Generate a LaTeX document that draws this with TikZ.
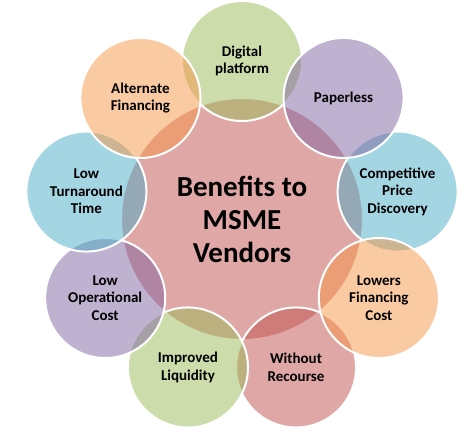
\documentclass[tikz,border=0pt]{standalone}
\usepackage{fontspec}
\setmainfont{Carlito}
\usetikzlibrary{calc}
\definecolor{cgreen}{HTML}{9BBB59}
\definecolor{cpurple}{HTML}{8064A2}
\definecolor{caqua}{HTML}{4BACC6}
\definecolor{corange}{HTML}{F79646}
\definecolor{cred}{HTML}{C0504D}
\begin{document}
\begin{tikzpicture}[x=1pt,y=1pt,
  bub/.style={circle, minimum size=120pt, inner sep=0pt, draw=white, line width=2pt,
    fill opacity=0.5, text opacity=1, align=center, text=black,
    font=\fontsize{15}{17.5}\selectfont\bfseries},
  hub/.style={bub, minimum size=242pt, font=\fontsize{29}{33}\selectfont\bfseries}
]
\useasboundingbox (0,0) rectangle (470,435);
\fill[white] (0,0) rectangle (470,435);
\coordinate (O) at (242,216);
\node[hub, fill=cred] (center) at (O) {Benefits to\\MSME\\Vendors};
\node[bub, fill=cgreen]  (digital)  at ($(O)+(90:158pt)$)  {Digital\\platform};
\node[bub, fill=caqua]   (compet)   at ($(O)+(10:158pt)$)  {Competitive\\Price\\Discovery};
\node[bub, fill=cred]    (without)  at ($(O)+(-70:158pt)$) {Without\\Recourse};
\node[bub, fill=cgreen]  (improved) at ($(O)+(-110:158pt)$) {Improved\\Liquidity};
\node[bub, fill=cpurple] (lowop)    at ($(O)+(-150:158pt)$) {Low\\Operational\\Cost};
\node[bub, fill=caqua]   (turn)     at ($(O)+(170:158pt)$) {Low\\Turnaround\\Time};
\node[bub, fill=corange] (altern)   at ($(O)+(130:158pt)$) {Alternate\\Financing};
\node[bub, fill=cpurple] (paper)    at ($(O)+(50:158pt)$)  {Paperless};
\node[bub, fill=corange] (lowers)   at ($(O)+(-30:158pt)$) {Lowers\\Financing\\Cost};
\end{tikzpicture}
\end{document}
